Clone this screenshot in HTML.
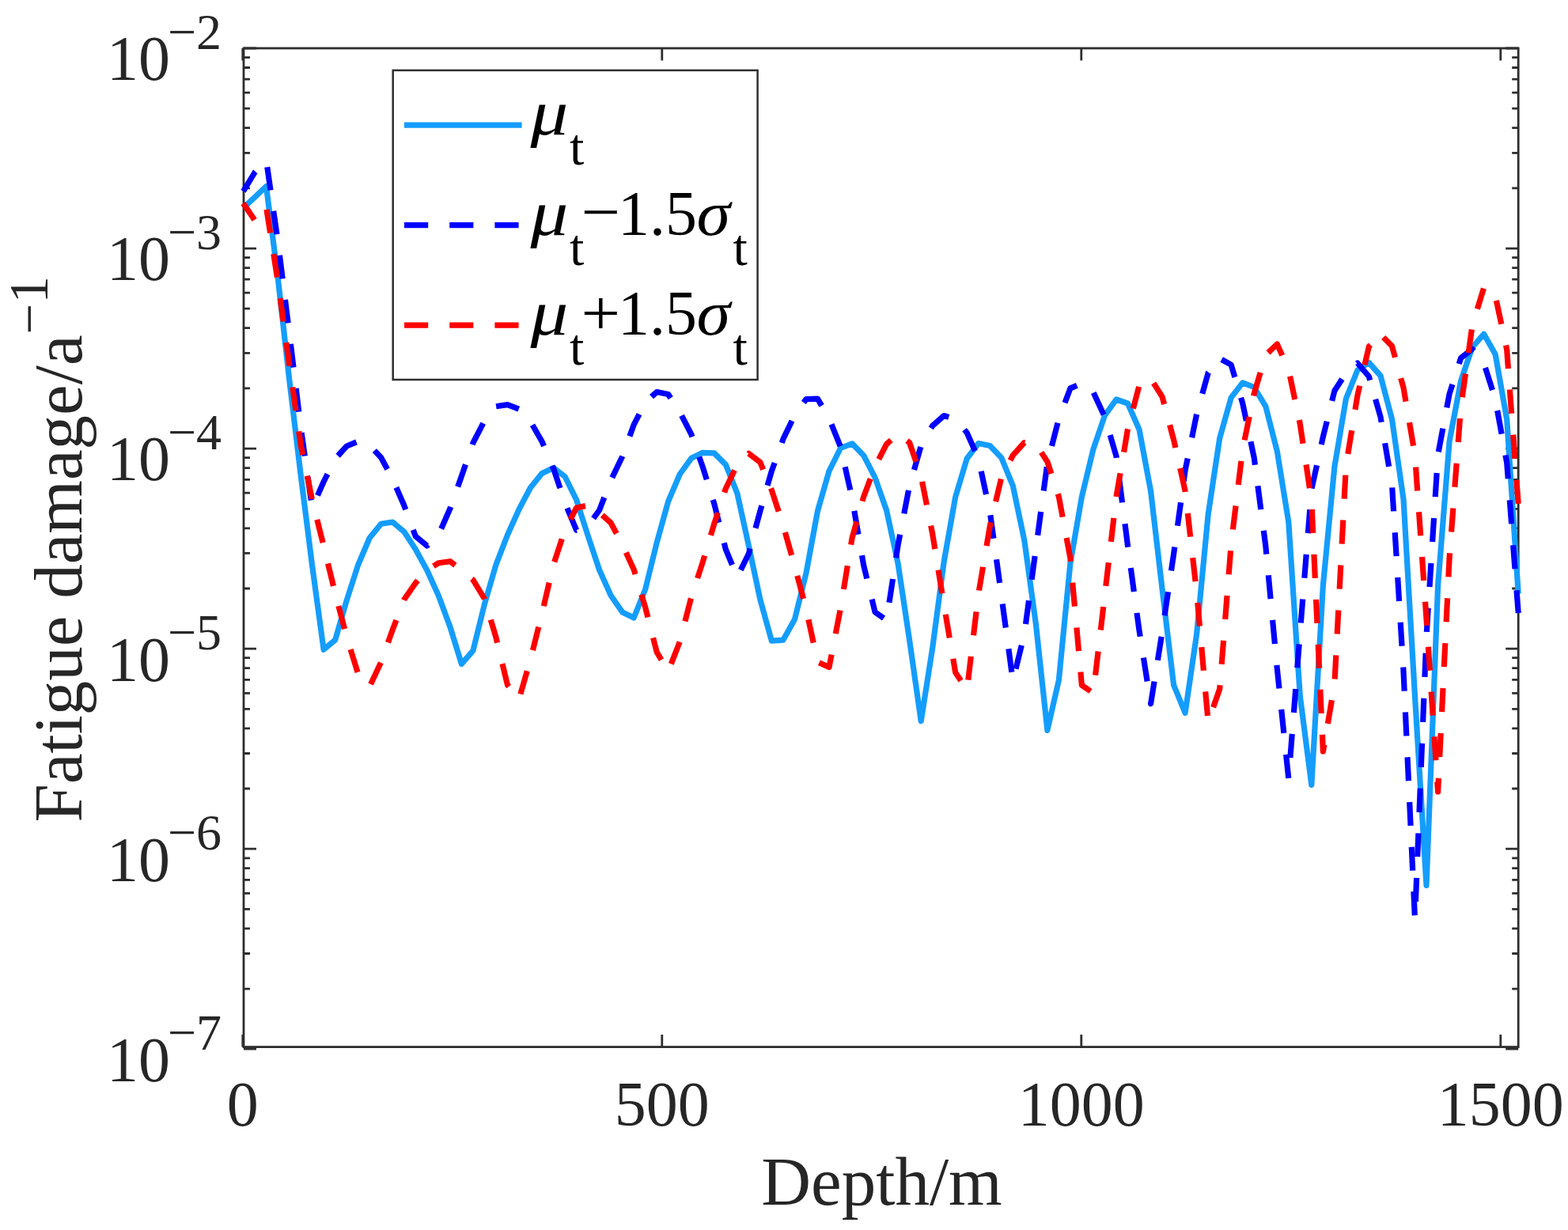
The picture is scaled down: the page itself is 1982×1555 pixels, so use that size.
<!DOCTYPE html>
<html lang="en">
<head>
<meta charset="utf-8">
<title>Fatigue damage vs depth</title>
<style>
html,body{margin:0;padding:0;background:#fff;}
body{width:1982px;height:1555px;overflow:hidden;}
svg{display:block;}
text{font-family:"Liberation Serif","DejaVu Serif",serif;fill:#262626;}
.tk{font-size:80px;}
.ex{font-size:64px;}
.lab{font-size:87px;}
.leg{font-size:80px;fill:#000;}
.sub{font-size:66px;fill:#000;}
.it{font-style:italic;}
</style>
</head>
<body>
<svg xmlns="http://www.w3.org/2000/svg" width="1982" height="1555" viewBox="0 0 1982 1555">
<rect x="0" y="0" width="1982" height="1555" fill="#ffffff"/>

<g stroke="#2e2e2e" stroke-width="2.8" fill="none" stroke-linecap="square">
<rect x="308.0" y="61.0" width="1611.2" height="1262.6"/>
<path stroke-linecap="butt" d="M306.8 1323.6 v-15.5 M306.8 61.0 v15.5 M836.8 1323.6 v-15.5 M836.8 61.0 v15.5 M1366.8 1323.6 v-15.5 M1366.8 61.0 v15.5 M1896.8 1323.6 v-15.5 M1896.8 61.0 v15.5 M308.0 61.0 h16 M1919.2 61.0 h-16 M308.0 237.9 h8 M1919.2 237.9 h-8 M308.0 193.3 h8 M1919.2 193.3 h-8 M308.0 161.7 h8 M1919.2 161.7 h-8 M308.0 137.2 h8 M1919.2 137.2 h-8 M308.0 117.1 h8 M1919.2 117.1 h-8 M308.0 100.2 h8 M1919.2 100.2 h-8 M308.0 85.5 h8 M1919.2 85.5 h-8 M308.0 72.6 h8 M1919.2 72.6 h-8 M308.0 314.1 h16 M1919.2 314.1 h-16 M308.0 490.9 h8 M1919.2 490.9 h-8 M308.0 446.4 h8 M1919.2 446.4 h-8 M308.0 414.7 h8 M1919.2 414.7 h-8 M308.0 390.2 h8 M1919.2 390.2 h-8 M308.0 370.2 h8 M1919.2 370.2 h-8 M308.0 353.2 h8 M1919.2 353.2 h-8 M308.0 338.6 h8 M1919.2 338.6 h-8 M308.0 325.6 h8 M1919.2 325.6 h-8 M308.0 567.1 h16 M1919.2 567.1 h-16 M308.0 744.0 h8 M1919.2 744.0 h-8 M308.0 699.4 h8 M1919.2 699.4 h-8 M308.0 667.8 h8 M1919.2 667.8 h-8 M308.0 643.3 h8 M1919.2 643.3 h-8 M308.0 623.2 h8 M1919.2 623.2 h-8 M308.0 606.3 h8 M1919.2 606.3 h-8 M308.0 591.6 h8 M1919.2 591.6 h-8 M308.0 578.7 h8 M1919.2 578.7 h-8 M308.0 820.2 h16 M1919.2 820.2 h-16 M308.0 997.0 h8 M1919.2 997.0 h-8 M308.0 952.5 h8 M1919.2 952.5 h-8 M308.0 920.8 h8 M1919.2 920.8 h-8 M308.0 896.3 h8 M1919.2 896.3 h-8 M308.0 876.3 h8 M1919.2 876.3 h-8 M308.0 859.3 h8 M1919.2 859.3 h-8 M308.0 844.7 h8 M1919.2 844.7 h-8 M308.0 831.7 h8 M1919.2 831.7 h-8 M308.0 1073.2 h16 M1919.2 1073.2 h-16 M308.0 1250.1 h8 M1919.2 1250.1 h-8 M308.0 1205.5 h8 M1919.2 1205.5 h-8 M308.0 1173.9 h8 M1919.2 1173.9 h-8 M308.0 1149.4 h8 M1919.2 1149.4 h-8 M308.0 1129.3 h8 M1919.2 1129.3 h-8 M308.0 1112.4 h8 M1919.2 1112.4 h-8 M308.0 1097.7 h8 M1919.2 1097.7 h-8 M308.0 1084.8 h8 M1919.2 1084.8 h-8 M308.0 1326.2 h16 M1919.2 1326.2 h-16"/>
</g>
<text class="tk" x="306.8" y="1423" text-anchor="middle">0</text>
<text class="tk" x="836.8" y="1423" text-anchor="middle">500</text>
<text class="tk" x="1366.8" y="1423" text-anchor="middle">1000</text>
<text class="tk" x="1896.8" y="1423" text-anchor="middle">1500</text>
<text class="tk" x="135" y="101.3">10</text><text class="ex" x="212" y="61.6">−2</text>
<text class="tk" x="135" y="354.4">10</text><text class="ex" x="212" y="314.7">−3</text>
<text class="tk" x="135" y="607.4">10</text><text class="ex" x="212" y="567.7">−4</text>
<text class="tk" x="135" y="860.5">10</text><text class="ex" x="212" y="820.8">−5</text>
<text class="tk" x="135" y="1113.5">10</text><text class="ex" x="212" y="1073.8">−6</text>
<text class="tk" x="135" y="1366.5">10</text><text class="ex" x="212" y="1326.8">−7</text>
<text class="lab" x="1114.5" y="1523" text-anchor="middle">Depth/m</text>
<g transform="translate(102.5,1039.5) rotate(-90)"><text class="lab" x="0" y="0">Fatigue damage/a</text><text x="617" y="-43" style="font-size:69px">−1</text></g>
<g fill="none" stroke-linejoin="round" stroke-linecap="butt" stroke-width="7.2">
<polyline stroke="#149dfc" points="307.5,263.0 322.0,249.3 336.5,235.5 351.1,350.0 365.6,479.0 380.1,600.0 394.6,715.0 409.1,821.3 423.7,809.0 438.2,759.0 452.7,714.0 467.2,680.0 481.7,662.3 496.3,660.0 510.8,672.3 525.3,694.5 539.8,721.0 554.3,753.0 568.9,792.4 583.4,839.4 597.9,822.7 612.4,764.0 626.9,714.0 641.5,676.3 656.0,644.0 670.5,616.5 685.0,598.5 699.5,591.4 714.1,602.5 728.6,631.8 743.1,677.0 757.6,720.5 772.1,752.8 786.7,773.9 801.2,781.0 815.7,745.0 830.2,686.0 844.7,633.8 859.3,599.5 873.8,579.3 888.3,572.3 902.8,572.9 917.3,587.4 931.9,623.7 946.4,690.0 960.9,758.0 975.4,810.2 989.9,809.2 1004.5,783.0 1019.0,724.5 1033.5,646.0 1048.0,595.5 1062.5,566.5 1077.1,560.8 1091.6,575.7 1106.1,603.9 1120.6,645.3 1135.1,712.5 1149.6,809.2 1164.2,911.6 1178.7,819.3 1193.2,710.0 1207.7,628.2 1222.2,579.7 1236.8,560.5 1251.3,563.6 1265.8,578.7 1280.3,614.0 1294.8,683.0 1309.4,789.0 1323.9,923.3 1338.4,859.7 1352.9,712.0 1367.4,628.2 1382.0,567.6 1396.5,525.2 1411.0,505.0 1425.5,510.0 1440.0,543.0 1454.6,621.0 1469.1,745.0 1483.6,866.0 1498.1,901.3 1512.6,802.0 1527.2,650.0 1541.7,554.1 1556.2,502.6 1570.7,483.9 1585.2,489.5 1599.8,513.7 1614.3,570.3 1628.8,660.0 1643.3,880.0 1657.8,992.4 1672.4,740.0 1686.9,590.0 1701.4,504.0 1715.9,468.0 1730.4,458.5 1745.0,475.0 1759.5,530.0 1774.0,631.0 1788.5,880.0 1803.0,1119.3 1817.6,740.0 1832.1,558.0 1846.6,481.4 1861.1,439.0 1875.6,422.3 1890.2,448.1 1904.7,530.0 1919.2,750.5"/>
<path stroke="#0000ff" stroke-dasharray="32.20 28.78" stroke-dashoffset="3.0" d="M307.5 241.8 L322.0 218.0 L336.5 202.5 L337.8 211.3"/>
<path stroke="#0000ff" stroke-dasharray="29.60 26.46" d="M337.8 211.3 L345.7 266.8"/>
<path stroke="#0000ff" stroke-dasharray="29.83 26.67" d="M345.7 266.8 L351.1 304.0 L365.6 420.0 L380.1 540.0 L394.6 642.0 L401.5 626.4"/>
<path stroke="#0000ff" stroke-dasharray="29.85 26.69" d="M401.5 626.4 L409.1 609.0 L423.7 580.0 L438.2 564.0 L452.7 558.0 L467.2 563.0 L473.4 569.6"/>
<path stroke="#0000ff" stroke-dasharray="28.87 25.81" d="M473.4 569.6 L481.7 578.5 L496.3 605.5 L500.9 616.3"/>
<path stroke="#0000ff" stroke-dasharray="30.44 27.21" d="M500.9 616.3 L510.8 639.0 L522.3 669.9"/>
<path stroke="#0000ff" stroke-dasharray="29.53 26.40" d="M522.3 669.9 L525.3 678.0 L539.8 690.0 L554.3 676.0 L557.7 668.5"/>
<path stroke="#0000ff" stroke-dasharray="30.19 26.99" d="M557.7 668.5 L568.9 643.0 L578.7 615.3"/>
<path stroke="#0000ff" stroke-dasharray="29.73 26.58" d="M578.7 615.3 L583.4 602.0 L597.2 562.1"/>
<path stroke="#0000ff" stroke-dasharray="30.20 27.00" d="M597.2 562.1 L597.9 560.0 L612.4 532.0 L626.9 513.8 L627.1 513.8"/>
<path stroke="#0000ff" stroke-dasharray="29.86 26.70" d="M627.1 513.8 L641.5 511.6 L656.0 517.2 L670.5 533.0 L673.0 537.3"/>
<path stroke="#0000ff" stroke-dasharray="30.39 27.17" d="M673.0 537.3 L685.0 558.0 L698.2 588.9"/>
<path stroke="#0000ff" stroke-dasharray="29.88 26.72" d="M698.2 588.9 L699.5 592.0 L714.1 635.4 L716.9 642.3"/>
<path stroke="#0000ff" stroke-dasharray="30.39 27.17" d="M716.9 642.3 L728.6 670.2 L743.1 665.0 L750.1 655.4"/>
<path stroke="#0000ff" stroke-dasharray="30.12 26.93" d="M750.1 655.4 L757.6 645.0 L772.1 607.4 L773.8 603.9"/>
<path stroke="#0000ff" stroke-dasharray="30.11 26.92" d="M773.8 603.9 L786.7 577.0 L795.9 551.4"/>
<path stroke="#0000ff" stroke-dasharray="30.48 27.25" d="M795.9 551.4 L801.2 536.9 L815.7 508.7 L823.6 501.5"/>
<path stroke="#0000ff" stroke-dasharray="29.27 26.17" d="M823.6 501.5 L830.2 495.5 L844.7 498.6 L859.3 520.8 L861.6 525.3"/>
<path stroke="#0000ff" stroke-dasharray="30.09 26.90" d="M861.6 525.3 L873.8 549.0 L883.8 577.7"/>
<path stroke="#0000ff" stroke-dasharray="30.02 26.84" d="M883.8 577.7 L888.3 590.4 L901.2 631.8"/>
<path stroke="#0000ff" stroke-dasharray="29.72 26.57" d="M901.2 631.8 L902.8 636.9 L917.3 694.4 L931.9 729.5 L946.4 700.0 L955.0 667.8"/>
<path stroke="#0000ff" stroke-dasharray="29.62 26.48" d="M955.0 667.8 L960.9 646.0 L970.1 613.8"/>
<path stroke="#0000ff" stroke-dasharray="30.10 26.91" d="M970.1 613.8 L975.4 595.5 L988.3 559.8"/>
<path stroke="#0000ff" stroke-dasharray="30.67 27.42" d="M988.3 559.8 L989.9 555.1 L1004.5 524.8 L1015.9 508.9"/>
<path stroke="#0000ff" stroke-dasharray="29.81 26.65" d="M1015.9 508.9 L1019.0 504.6 L1033.5 504.2 L1048.0 528.8 L1051.0 536.3"/>
<path stroke="#0000ff" stroke-dasharray="29.99 26.81" d="M1051.0 536.3 L1062.5 565.0 L1068.2 590.2"/>
<path stroke="#0000ff" stroke-dasharray="30.08 26.89" d="M1068.2 590.2 L1077.1 630.0 L1091.6 714.3 L1106.1 773.9 L1120.6 784.0 L1135.1 689.0 L1149.6 614.0 L1155.5 593.9"/>
<path stroke="#0000ff" stroke-dasharray="30.17 26.97" d="M1155.5 593.9 L1164.2 563.6 L1176.9 541.4"/>
<path stroke="#0000ff" stroke-dasharray="29.31 26.21" d="M1176.9 541.4 L1178.7 538.3 L1193.2 525.5 L1207.7 530.0 L1219.1 543.3"/>
<path stroke="#0000ff" stroke-dasharray="30.09 26.90" d="M1219.1 543.3 L1222.2 547.0 L1236.8 580.0 L1240.2 595.7"/>
<path stroke="#0000ff" stroke-dasharray="29.94 26.76" d="M1240.2 595.7 L1251.3 647.0 L1265.8 753.1 L1267.2 763.5"/>
<path stroke="#0000ff" stroke-dasharray="30.26 27.05" d="M1267.2 763.5 L1274.9 820.3"/>
<path stroke="#0000ff" stroke-dasharray="29.66 26.52" d="M1274.9 820.3 L1280.3 860.6 L1284.0 845.6"/>
<path stroke="#0000ff" stroke-dasharray="30.65 27.40" d="M1284.0 845.6 L1294.8 801.5 L1296.5 788.9"/>
<path stroke="#0000ff" stroke-dasharray="29.93 26.76" d="M1296.5 788.9 L1304.1 732.7"/>
<path stroke="#0000ff" stroke-dasharray="29.88 26.72" d="M1304.1 732.7 L1309.4 694.0 L1311.7 676.7"/>
<path stroke="#0000ff" stroke-dasharray="29.98 26.80" d="M1311.7 676.7 L1319.2 620.4"/>
<path stroke="#0000ff" stroke-dasharray="30.37 27.15" d="M1319.2 620.4 L1323.9 585.8 L1329.5 563.9"/>
<path stroke="#0000ff" stroke-dasharray="30.21 27.01" d="M1329.5 563.9 L1338.4 529.2 L1346.0 509.2"/>
<path stroke="#0000ff" stroke-dasharray="28.67 25.63" d="M1346.0 509.2 L1352.9 490.9 L1367.4 484.8 L1382.0 495.9 L1382.3 496.6"/>
<path stroke="#0000ff" stroke-dasharray="30.46 27.23" d="M1382.3 496.6 L1396.5 527.2 L1403.2 550.1"/>
<path stroke="#0000ff" stroke-dasharray="29.89 26.72" d="M1403.2 550.1 L1411.0 576.7 L1414.7 605.4"/>
<path stroke="#0000ff" stroke-dasharray="30.22 27.01" d="M1414.7 605.4 L1422.0 662.2"/>
<path stroke="#0000ff" stroke-dasharray="29.81 26.65" d="M1422.0 662.2 L1425.5 690.0 L1429.3 718.1"/>
<path stroke="#0000ff" stroke-dasharray="30.24 27.04" d="M1429.3 718.1 L1440.0 797.0 L1454.6 889.7 L1469.1 798.8 L1472.1 778.1"/>
<path stroke="#0000ff" stroke-dasharray="30.25 27.04" d="M1472.1 778.1 L1480.5 721.5"/>
<path stroke="#0000ff" stroke-dasharray="30.27 27.06" d="M1480.5 721.5 L1483.6 700.4 L1488.5 664.7"/>
<path stroke="#0000ff" stroke-dasharray="29.80 26.64" d="M1488.5 664.7 L1498.1 594.5 L1506.6 553.3"/>
<path stroke="#0000ff" stroke-dasharray="30.18 26.98" d="M1506.6 553.3 L1512.6 523.8 L1519.8 497.8"/>
<path stroke="#0000ff" stroke-dasharray="28.22 25.23" d="M1519.8 497.8 L1527.2 471.3 L1541.7 453.2 L1544.1 454.5"/>
<path stroke="#0000ff" stroke-dasharray="30.17 26.97" d="M1544.1 454.5 L1556.2 461.2 L1568.6 502.7"/>
<path stroke="#0000ff" stroke-dasharray="30.03 26.85" d="M1568.6 502.7 L1570.7 509.7 L1585.2 578.4 L1599.8 690.0 L1608.6 784.0"/>
<path stroke="#0000ff" stroke-dasharray="30.14 26.95" d="M1608.6 784.0 L1613.9 840.8"/>
<path stroke="#0000ff" stroke-dasharray="29.77 26.61" d="M1613.9 840.8 L1614.3 845.0 L1619.7 896.9"/>
<path stroke="#0000ff" stroke-dasharray="30.25 27.05" d="M1619.7 896.9 L1628.8 984.5 L1635.4 900.9"/>
<path stroke="#0000ff" stroke-dasharray="30.00 26.82" d="M1635.4 900.9 L1639.8 844.3"/>
<path stroke="#0000ff" stroke-dasharray="30.05 26.87" d="M1639.8 844.3 L1643.3 800.0 L1644.3 787.5"/>
<path stroke="#0000ff" stroke-dasharray="30.02 26.84" d="M1644.3 787.5 L1657.8 618.7 L1672.4 552.1 L1683.7 506.8"/>
<path stroke="#0000ff" stroke-dasharray="30.77 27.51" d="M1683.7 506.8 L1686.9 494.0 L1701.4 471.5 L1715.3 459.5"/>
<path stroke="#0000ff" stroke-dasharray="27.98 25.01" d="M1715.3 459.5 L1715.9 459.0 L1730.4 476.0 L1738.6 504.7"/>
<path stroke="#0000ff" stroke-dasharray="30.04 26.86" d="M1738.6 504.7 L1745.0 527.0 L1759.5 612.7 L1774.0 848.0 L1781.7 1014.0"/>
<path stroke="#0000ff" stroke-dasharray="29.98 26.81" d="M1781.7 1014.0 L1784.3 1070.8"/>
<path stroke="#0000ff" stroke-dasharray="29.82 26.66" d="M1784.3 1070.8 L1786.9 1127.2"/>
<path stroke="#0000ff" stroke-dasharray="30.08 26.89" d="M1786.9 1127.2 L1788.5 1162.0 L1789.4 1139.9"/>
<path stroke="#0000ff" stroke-dasharray="30.02 26.84" d="M1789.4 1139.9 L1791.7 1083.1"/>
<path stroke="#0000ff" stroke-dasharray="29.73 26.58" d="M1791.7 1083.1 L1794.0 1026.8"/>
<path stroke="#0000ff" stroke-dasharray="30.11 26.92" d="M1794.0 1026.8 L1803.0 805.0 L1817.6 575.0 L1828.8 515.3"/>
<path stroke="#0000ff" stroke-dasharray="30.34 27.13" d="M1828.8 515.3 L1832.1 498.0 L1844.2 460.0"/>
<path stroke="#0000ff" stroke-dasharray="29.24 26.14" d="M1844.2 460.0 L1846.6 452.6 L1861.1 441.2 L1875.6 458.7 L1877.5 464.8"/>
<path stroke="#0000ff" stroke-dasharray="29.77 26.62" d="M1877.5 464.8 L1890.2 505.0 L1892.7 519.0"/>
<path stroke="#0000ff" stroke-dasharray="30.20 27.00" d="M1892.7 519.0 L1904.7 585.0 L1919.2 775.0"/>
<path stroke="#ff0000" stroke-dasharray="28.50 25.48" stroke-dashoffset="3.0" d="M307.5 256.9 L322.0 278.5 L336.5 262.0 L337.0 264.9"/>
<path stroke="#ff0000" stroke-dasharray="29.98 26.81" d="M337.0 264.9 L345.8 321.1"/>
<path stroke="#ff0000" stroke-dasharray="29.83 26.67" d="M345.8 321.1 L351.1 355.0 L361.8 432.9"/>
<path stroke="#ff0000" stroke-dasharray="30.25 27.04" d="M361.8 432.9 L365.6 460.0 L369.8 489.6"/>
<path stroke="#ff0000" stroke-dasharray="29.66 26.52" d="M369.8 489.6 L377.7 545.3"/>
<path stroke="#ff0000" stroke-dasharray="30.22 27.02" d="M377.7 545.3 L380.1 562.0 L388.3 601.5"/>
<path stroke="#ff0000" stroke-dasharray="29.98 26.80" d="M388.3 601.5 L394.6 632.0 L400.8 656.9"/>
<path stroke="#ff0000" stroke-dasharray="30.12 26.93" d="M400.8 656.9 L409.1 690.0 L414.5 712.3"/>
<path stroke="#ff0000" stroke-dasharray="29.31 26.20" d="M414.5 712.3 L423.7 750.0 L427.9 766.1"/>
<path stroke="#ff0000" stroke-dasharray="30.09 26.90" d="M427.9 766.1 L438.2 805.0 L443.1 821.0"/>
<path stroke="#ff0000" stroke-dasharray="30.27 27.06" d="M443.1 821.0 L452.7 852.0 L467.2 868.0 L468.6 865.0"/>
<path stroke="#ff0000" stroke-dasharray="30.13 26.94" d="M468.6 865.0 L481.7 837.0 L490.5 812.3"/>
<path stroke="#ff0000" stroke-dasharray="30.24 27.04" d="M490.5 812.3 L496.3 796.0 L510.5 758.7"/>
<path stroke="#ff0000" stroke-dasharray="30.39 27.17" d="M510.5 758.7 L510.8 758.0 L525.3 737.0 L539.8 721.0 L554.3 711.7 L568.9 709.7 L583.4 720.8 L597.9 733.0 L612.4 757.0 L626.9 805.6 L641.5 866.0 L656.0 884.0 L670.5 834.0 L685.0 776.0 L699.5 714.0 L714.1 670.0 L721.0 656.6"/>
<path stroke="#ff0000" stroke-dasharray="28.07 25.09" d="M721.0 656.6 L728.6 642.0 L743.1 639.0 L757.6 648.0 L761.2 651.2"/>
<path stroke="#ff0000" stroke-dasharray="29.96 26.79" d="M761.2 651.2 L772.1 661.0 L786.7 688.4 L801.2 720.0 L815.7 767.8 L830.2 824.4 L844.7 848.6 L859.3 811.2 L873.8 755.0 L888.3 710.5 L902.8 662.1 L915.7 622.7"/>
<path stroke="#ff0000" stroke-dasharray="31.02 27.73" d="M915.7 622.7 L917.3 617.7 L931.9 587.4 L946.1 573.6"/>
<path stroke="#ff0000" stroke-dasharray="28.68 25.64" d="M946.1 573.6 L946.4 573.3 L960.9 584.4 L974.5 617.4"/>
<path stroke="#ff0000" stroke-dasharray="30.79 27.52" d="M974.5 617.4 L975.4 619.7 L989.9 664.1 L992.4 672.9"/>
<path stroke="#ff0000" stroke-dasharray="30.14 26.94" d="M992.4 672.9 L1004.5 715.5 L1019.0 770.0 L1033.5 836.9 L1048.0 843.6 L1062.5 769.0 L1077.1 680.0 L1090.1 633.6"/>
<path stroke="#ff0000" stroke-dasharray="30.06 26.87" d="M1090.1 633.6 L1091.6 628.2 L1106.1 589.8 L1110.8 580.6"/>
<path stroke="#ff0000" stroke-dasharray="29.16 26.07" d="M1110.8 580.6 L1120.6 561.5 L1135.1 548.5 L1146.5 557.1"/>
<path stroke="#ff0000" stroke-dasharray="29.53 26.40" d="M1146.5 557.1 L1149.6 559.5 L1164.2 601.9 L1165.6 608.9"/>
<path stroke="#ff0000" stroke-dasharray="30.00 26.82" d="M1165.6 608.9 L1178.7 675.0 L1193.2 764.8 L1204.8 832.8"/>
<path stroke="#ff0000" stroke-dasharray="30.04 26.85" d="M1204.8 832.8 L1207.7 850.1 L1222.2 872.3 L1223.8 859.6"/>
<path stroke="#ff0000" stroke-dasharray="29.94 26.77" d="M1223.8 859.6 L1230.5 803.3"/>
<path stroke="#ff0000" stroke-dasharray="30.21 27.01" d="M1230.5 803.3 L1236.8 750.7 L1251.3 665.0 L1258.6 634.1"/>
<path stroke="#ff0000" stroke-dasharray="29.38 26.27" d="M1258.6 634.1 L1265.8 603.9 L1277.1 582.0"/>
<path stroke="#ff0000" stroke-dasharray="29.58 26.44" d="M1277.1 582.0 L1280.3 575.7 L1294.8 559.5 L1309.4 561.5 L1316.2 571.9"/>
<path stroke="#ff0000" stroke-dasharray="30.03 26.84" d="M1316.2 571.9 L1323.9 583.7 L1337.2 624.4"/>
<path stroke="#ff0000" stroke-dasharray="29.92 26.75" d="M1337.2 624.4 L1338.4 628.2 L1348.1 680.0"/>
<path stroke="#ff0000" stroke-dasharray="30.27 27.06" d="M1348.1 680.0 L1352.9 705.5 L1355.7 736.7"/>
<path stroke="#ff0000" stroke-dasharray="30.07 26.88" d="M1355.7 736.7 L1360.9 793.5"/>
<path stroke="#ff0000" stroke-dasharray="29.69 26.54" d="M1360.9 793.5 L1365.9 849.5"/>
<path stroke="#ff0000" stroke-dasharray="30.29 27.08" d="M1365.9 849.5 L1367.4 866.2 L1382.0 876.3 L1384.6 853.6"/>
<path stroke="#ff0000" stroke-dasharray="30.34 27.13" d="M1384.6 853.6 L1391.3 796.5"/>
<path stroke="#ff0000" stroke-dasharray="29.56 26.43" d="M1391.3 796.5 L1396.5 752.0 L1397.8 740.9"/>
<path stroke="#ff0000" stroke-dasharray="29.81 26.65" d="M1397.8 740.9 L1404.4 684.8"/>
<path stroke="#ff0000" stroke-dasharray="30.20 27.00" d="M1404.4 684.8 L1411.0 628.0"/>
<path stroke="#ff0000" stroke-dasharray="30.17 26.97" d="M1411.0 628.0 L1420.6 571.7"/>
<path stroke="#ff0000" stroke-dasharray="29.79 26.63" d="M1420.6 571.7 L1425.5 542.4 L1432.4 516.5"/>
<path stroke="#ff0000" stroke-dasharray="28.53 25.51" d="M1432.4 516.5 L1440.0 487.5 L1454.6 478.5 L1458.2 484.3"/>
<path stroke="#ff0000" stroke-dasharray="30.23 27.03" d="M1458.2 484.3 L1469.1 501.6 L1478.6 537.2"/>
<path stroke="#ff0000" stroke-dasharray="29.75 26.60" d="M1478.6 537.2 L1483.6 556.0 L1491.7 592.0"/>
<path stroke="#ff0000" stroke-dasharray="30.53 27.30" d="M1491.7 592.0 L1498.1 620.8 L1501.3 649.0"/>
<path stroke="#ff0000" stroke-dasharray="29.84 26.68" d="M1501.3 649.0 L1507.7 705.1"/>
<path stroke="#ff0000" stroke-dasharray="30.20 27.00" d="M1507.7 705.1 L1512.6 749.0 L1513.8 762.0"/>
<path stroke="#ff0000" stroke-dasharray="29.74 26.59" d="M1513.8 762.0 L1518.8 818.1"/>
<path stroke="#ff0000" stroke-dasharray="29.76 26.61" d="M1518.8 818.1 L1523.7 874.3"/>
<path stroke="#ff0000" stroke-dasharray="30.76 27.50" d="M1523.7 874.3 L1527.2 912.8 L1533.6 894.3"/>
<path stroke="#ff0000" stroke-dasharray="29.59 26.45" d="M1533.6 894.3 L1541.7 871.0 L1544.2 839.7"/>
<path stroke="#ff0000" stroke-dasharray="30.05 26.87" d="M1544.2 839.7 L1548.7 783.0"/>
<path stroke="#ff0000" stroke-dasharray="30.10 26.91" d="M1548.7 783.0 L1556.2 687.6 L1570.7 568.3 L1584.6 500.5"/>
<path stroke="#ff0000" stroke-dasharray="30.71 27.46" d="M1584.6 500.5 L1585.2 497.6 L1599.8 449.1 L1603.0 445.9"/>
<path stroke="#ff0000" stroke-dasharray="31.48 28.14" d="M1603.0 445.9 L1614.3 435.0 L1628.8 467.3 L1630.6 475.7"/>
<path stroke="#ff0000" stroke-dasharray="29.84 26.68" d="M1630.6 475.7 L1642.3 531.0"/>
<path stroke="#ff0000" stroke-dasharray="30.11 26.92" d="M1642.3 531.0 L1643.3 536.0 L1657.8 632.9 L1672.4 950.0 L1686.9 864.5 L1701.4 588.5 L1713.0 517.8"/>
<path stroke="#ff0000" stroke-dasharray="30.57 27.33" d="M1713.0 517.8 L1715.9 500.0 L1725.0 461.2"/>
<path stroke="#ff0000" stroke-dasharray="26.63 23.80" d="M1725.0 461.2 L1730.4 438.0 L1745.0 422.5 L1748.7 426.4"/>
<path stroke="#ff0000" stroke-dasharray="30.44 27.22" d="M1748.7 426.4 L1759.5 437.5 L1770.7 478.2"/>
<path stroke="#ff0000" stroke-dasharray="30.07 26.89" d="M1770.7 478.2 L1774.0 490.0 L1788.5 575.0 L1803.0 782.0 L1817.6 1001.0 L1832.1 705.0 L1846.6 514.0 L1848.3 502.2"/>
<path stroke="#ff0000" stroke-dasharray="29.94 26.77" d="M1848.3 502.2 L1856.2 446.1"/>
<path stroke="#ff0000" stroke-dasharray="29.96 26.79" d="M1856.2 446.1 L1861.1 411.0 L1867.4 390.6"/>
<path stroke="#ff0000" stroke-dasharray="27.19 24.31" d="M1867.4 390.6 L1875.6 364.0 L1890.2 373.9 L1891.4 379.9"/>
<path stroke="#ff0000" stroke-dasharray="30.51 27.27" d="M1891.4 379.9 L1903.5 436.4"/>
<path stroke="#ff0000" stroke-dasharray="29.82 26.66" d="M1903.5 436.4 L1904.7 442.0 L1908.4 492.6"/>
<path stroke="#ff0000" stroke-dasharray="30.20 27.00" d="M1908.4 492.6 L1919.2 637.0"/>
</g>
<rect x="496.7" y="88.9" width="460.9" height="391.1" fill="#fff" stroke="#2e2e2e" stroke-width="2.5"/>
<g fill="none" stroke-width="7.2">
<path stroke="#149dfc" d="M511 158.1 H659.6"/>
<path stroke="#0000ff" stroke-dasharray="30.2 27" d="M511 284.7 H659.6"/>
<path stroke="#ff0000" stroke-dasharray="30.2 27" d="M511 411.2 H659.6"/>
</g>
<text class="leg it" transform="translate(670.5,170.1) scale(1.19,1)">μ</text><text class="sub" x="720" y="208.1">t</text>
<text class="leg it" transform="translate(670.5,296.6) scale(1.19,1)">μ</text><text class="sub" x="720" y="334.6">t</text><text class="leg" transform="translate(734.5,294.6) scale(1.1,1)">−</text><text class="leg" x="781" y="296.6">1.5</text><text class="leg it" transform="translate(880.5,296.6) scale(1.08,1)">σ</text><text class="sub" x="926.5" y="334.6">t</text>
<text class="leg it" transform="translate(670.5,423.1) scale(1.19,1)">μ</text><text class="sub" x="720" y="461.1">t</text><text class="leg" transform="translate(734.5,423.1) scale(1.1,1)">+</text><text class="leg" x="781" y="423.1">1.5</text><text class="leg it" transform="translate(880.5,423.1) scale(1.08,1)">σ</text><text class="sub" x="926.5" y="461.1">t</text>
</svg>
</body>
</html>
